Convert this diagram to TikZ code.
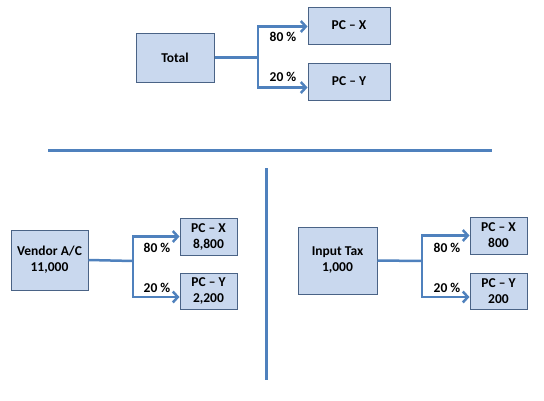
\documentclass[tikz,border=0pt]{standalone}
\usepackage{fontspec}
\setmainfont{Carlito}
\usetikzlibrary{positioning}
\usetikzlibrary{arrows.meta}
\definecolor{boxfill}{HTML}{C9D8EE}
\definecolor{boxline}{HTML}{4A6386}
\definecolor{linkblue}{HTML}{4F81BD}
\tikzstyle{acct} = [rectangle, draw=boxline, fill=boxfill, line width=1pt, align=center, inner sep=0pt, font=\fontsize{13.5}{16}\selectfont\bfseries]
\tikzstyle{link} = [draw=linkblue, line width=2.5pt, -{Straight Barb[length=5pt,width=11pt]}]
\tikzstyle{pct} = [font=\fontsize{13.5}{16}\selectfont\bfseries, inner sep=0pt]
\tikzstyle{split} = [draw=linkblue, line width=3pt]

\begin{document}
\begin{tikzpicture}[x=1pt,y=-1pt]
        \useasboundingbox (0,0) rectangle (544,400);
        % top: the rule
        \node[acct,minimum width=78pt,minimum height=49pt] (Tot) at (175,57.5) {Total};
        \node[acct,minimum width=82pt,minimum height=37pt] (TX) at (349,25.5) {PC -- X};
        \node[acct,minimum width=82pt,minimum height=37pt] (TY) at (349,81.5) {PC -- Y};
        \coordinate (jT) at (258,57.5);
        \draw[link,-] (Tot.east) -- (jT);
        \draw[link] (jT) |- ([yshift=-1pt]TX.west);
        \draw[link] (jT) |- ([yshift=-6pt]TY.west);
        \node[pct] (pTX) at (283,37) {80 \%};
        \node[pct] (pTY) at (283,77) {20 \%};

        % separators
        \coordinate (hL) at (48,150);
        \coordinate (hR) at (492,150);
        \coordinate (vT) at (266,168);
        \coordinate (vB) at (266,380);
        \draw[split] (hL) -- (hR);
        \draw[split] (vT) -- (vB);

        % bottom left: vendor
        \node[acct,minimum width=77pt,minimum height=60pt] (Ven) at (49.5,260) {Vendor A/C\\11,000};
        \node[acct,minimum width=57pt,minimum height=37pt] (VX) at (208.5,236.5) {PC -- X\\8,800};
        \node[acct,minimum width=57pt,minimum height=36pt] (VY) at (208.5,291) {PC -- Y\\2,200};
        \coordinate (jV) at (133,261);
        \draw[link,-] (Ven.east) -- (jV);
        \draw[link] (jV) |- (VX.west);
        \draw[link] (jV) |- ([yshift=-6pt]VY.west);
        \node[pct] (pVX) at (157,248) {80 \%};
        \node[pct] (pVY) at (157,288) {20 \%};

        % bottom right: input tax
        \node[acct,minimum width=79pt,minimum height=67pt] (Inp) at (337.5,260.5) {Input Tax\\1,000};
        \node[acct,minimum width=57pt,minimum height=37pt] (IX) at (498.5,235.5) {PC -- X\\800};
        \node[acct,minimum width=57pt,minimum height=36pt] (IY) at (498.5,291) {PC -- Y\\200};
        \coordinate (jI) at (422,261);
        \draw[link,-] (Inp.east) -- (jI);
        \draw[link] (jI) |- (IX.west);
        \draw[link] (jI) |- ([yshift=-6pt]IY.west);
        \node[pct] (pIX) at (447,248) {80 \%};
        \node[pct] (pIY) at (447,288) {20 \%};
    \end{tikzpicture}
\end{document}
